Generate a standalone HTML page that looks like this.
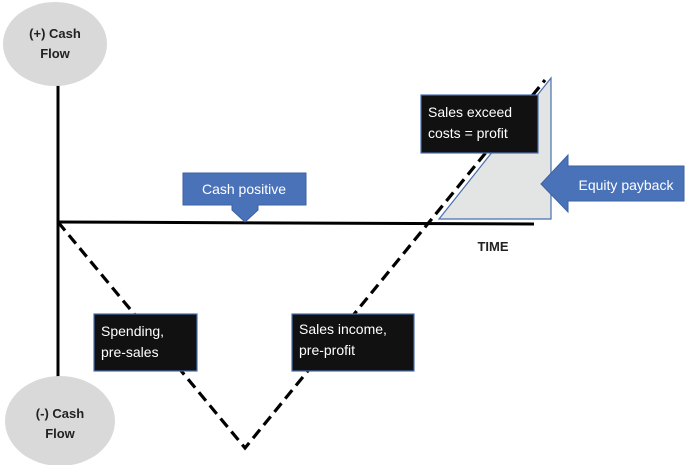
<!DOCTYPE html>
<html><head><meta charset="utf-8"><style>
html,body{margin:0;padding:0;background:#fff;}
svg{display:block;}
text{font-family:"Liberation Sans",sans-serif;}
</style></head><body>
<svg width="685" height="465" viewBox="0 0 685 465" xmlns="http://www.w3.org/2000/svg">
<rect width="685" height="465" fill="#fff"/>
<!-- gray triangle -->
<polygon points="439,219 551,219 551,78" fill="#e3e4e4" stroke="#4a6fb0" stroke-width="1.2"/>
<!-- axes -->
<line x1="58" y1="85" x2="58" y2="382" stroke="#000" stroke-width="3"/>
<line x1="57" y1="222" x2="534" y2="224" stroke="#000" stroke-width="3"/>
<!-- dashed V -->
<polyline points="58,222 245,448 545,80" fill="none" stroke="#000" stroke-width="3.2" stroke-dasharray="11,6"/>
<!-- ellipses -->
<ellipse cx="55" cy="44" rx="52" ry="42" fill="#d9d9d9"/>
<text x="55" y="38" font-size="13" font-weight="bold" text-anchor="middle" fill="#222">(+) Cash</text>
<text x="55" y="58" font-size="13" font-weight="bold" text-anchor="middle" fill="#222">Flow</text>
<ellipse cx="60" cy="421" rx="55" ry="45" fill="#d9d9d9"/>
<text x="60" y="418" font-size="13" font-weight="bold" text-anchor="middle" fill="#222">(-) Cash</text>
<text x="60" y="438" font-size="13" font-weight="bold" text-anchor="middle" fill="#222">Flow</text>
<!-- cash positive callout -->
<polygon points="183,173 306,173 306,205 258,205 258,210 245,222 232,210 232,205 183,205" fill="#4a72b8" stroke="#3d62a3" stroke-width="1"/>
<text x="244" y="194" font-size="14" text-anchor="middle" fill="#fff">Cash positive</text>
<!-- black boxes -->
<rect x="94" y="314" width="103" height="57" fill="#111" stroke="#4a6fb0" stroke-width="1.2"/>
<text x="101" y="336" font-size="14" fill="#fff">Spending,</text>
<text x="101" y="357" font-size="14" fill="#fff">pre-sales</text>
<rect x="292" y="314" width="122" height="57" fill="#111" stroke="#4a6fb0" stroke-width="1.2"/>
<text x="299" y="334" font-size="14" fill="#fff">Sales income,</text>
<text x="299" y="355" font-size="14" fill="#fff">pre-profit</text>
<rect x="421" y="95" width="117" height="58" fill="#111" stroke="#4a6fb0" stroke-width="1.2"/>
<text x="428" y="117" font-size="14" fill="#fff">Sales exceed</text>
<text x="428" y="138" font-size="14" fill="#fff">costs = profit</text>
<!-- equity payback arrow -->
<polygon points="541,184 568,155 568,166 684,166 684,201 568,201 568,212" fill="#4a72b8" stroke="#3d62a3" stroke-width="1"/>
<text x="626" y="190" font-size="14" text-anchor="middle" fill="#fff">Equity payback</text>
<!-- TIME -->
<text x="493" y="251" font-size="13" font-weight="bold" text-anchor="middle" fill="#222">TIME</text>
</svg>
</body></html>
